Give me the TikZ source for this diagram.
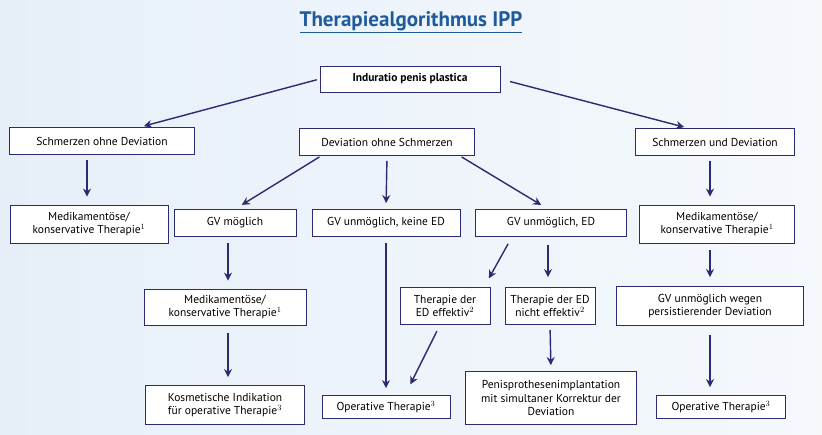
\documentclass[tikz,border=0pt]{standalone}
\usepackage{fontspec}
\setmainfont{PT Sans}
\usetikzlibrary{arrows.meta}
\definecolor{navy}{HTML}{2B2A72}
\definecolor{ttl}{HTML}{1F5B9C}
\definecolor{bg}{HTML}{E6EFF8}
\begin{document}
\begin{tikzpicture}[x=1pt,y=-1pt,
 box/.style={draw=navy,fill=white,line width=0.8pt,align=center,inner sep=2pt,font=\fontsize{11.5}{13.5}\selectfont,text=black},
 arr/.style={draw=navy,line width=1.4pt,-{Stealth[length=8pt,width=8pt]}}]
\useasboundingbox (0,0) rectangle (822,435);
\shade[left color=bg,right color=bg!40!white] (0,0) rectangle (822,435);
\node[font=\fontsize{21}{24}\selectfont\bfseries,text=ttl] (t) at (411,22) {\underline{Therapiealgorithmus IPP}};
\node[box,minimum width=180,minimum height=26,font=\fontsize{11.5}{13.5}\selectfont\bfseries] (a) at (410,79) {Induratio penis plastica};
\node[box,minimum width=185,minimum height=27] (b1) at (102,141) {Schmerzen ohne Deviation};
\node[box,minimum width=175,minimum height=27] (b2) at (387,142) {Deviation ohne Schmerzen};
\node[box,minimum width=159,minimum height=27] (b3) at (715,142) {Schmerzen und Deviation};
\node[box,minimum width=158,minimum height=38] (c1) at (89,224) {Medikamentöse/\\konservative Therapie$^1$};
\node[box,minimum width=122,minimum height=27] (c2) at (235,223) {GV möglich};
\node[box,minimum width=148,minimum height=27] (c3) at (386,223) {GV unmöglich, keine ED};
\node[box,minimum width=151,minimum height=27] (c4) at (551,223) {GV unmöglich, ED};
\node[box,minimum width=155,minimum height=38] (c5) at (717,224) {Medikamentöse/\\konservative Therapie$^1$};
\node[box,minimum width=162,minimum height=36] (d1) at (225,307) {Medikamentöse/\\konservative Therapie$^1$};
\node[box,minimum width=90,minimum height=37] (d2) at (445,306) {Therapie der\\ED effektiv$^2$};
\node[box,minimum width=90,minimum height=37] (d3) at (550,306) {Therapie der ED\\nicht effektiv$^2$};
\node[box,minimum width=187,minimum height=39] (d4) at (710,306) {GV unmöglich wegen\\persistierender Deviation};
\node[box,minimum width=159,minimum height=39] (e1) at (225,405) {Kosmetische Indikation\\für operative Therapie$^3$};
\node[box,minimum width=128,minimum height=23] (e2) at (386,407) {Operative Therapie$^3$};
\node[box,minimum width=171,minimum height=53] (e3) at (551,398) {Penisprothesenimplantation\\mit simultaner Korrektur der\\Deviation};
\node[box,minimum width=129,minimum height=23] (e4) at (721,407) {Operative Therapie$^3$};
\draw[arr,shorten <=3pt,shorten >=4pt] (a.west) -- (b1.north -| 140,0);
\draw[arr,shorten <=10pt,shorten >=4pt] (a.east) -- (b3.north -| 688,0);
\draw[arr,shorten <=2pt,shorten >=8pt] (b2.south west) ++(22,0) -- (c2.north);
\draw[arr,shorten <=5pt,shorten >=6pt] (b2.south) -- (c3.north);
\draw[arr,shorten <=2pt,shorten >=8pt] (b2.south east) ++(-15,0) -- ([xshift=-3pt]c4.north);
\draw[arr,shorten <=5pt,shorten >=8pt] (b1.south -| 87,0) -- (c1.north -| 87,0);
\draw[arr,shorten <=5pt,shorten >=8pt] (b3.south -| 710,0) -- (c5.north -| 710,0);
\draw[arr,shorten <=6pt,shorten >=8pt] (c2.south -| 228,0) -- (d1.north -| 228,0);
\draw[arr,shorten <=8pt,shorten >=8pt] (d1.south -| 228,0) -- (e1.north -| 228,0);
\draw[arr,shorten <=6pt,shorten >=7pt] (c3.south) -- (e2.north);
\draw[arr,shorten <=8pt,shorten >=10pt] (c4.south -| 512,0) -- (d2.north -| 484,0);
\draw[arr,shorten <=8pt,shorten >=10pt] (c4.south -| 548,0) -- (d3.north -| 548,0);
\draw[arr,shorten <=7pt,shorten >=12pt] (d2.south -| 440,0) -- (e2.north -| 405,0);
\draw[arr,shorten <=5pt,shorten >=6pt] (d3.south) -- (e3.north);
\draw[arr,shorten <=7pt,shorten >=9pt] (c5.south -| 710,0) -- (d4.north -| 710,0);
\draw[arr,shorten <=9pt,shorten >=8pt] (d4.south) -- (e4.north -| 710,0);
\end{tikzpicture}
\end{document}
